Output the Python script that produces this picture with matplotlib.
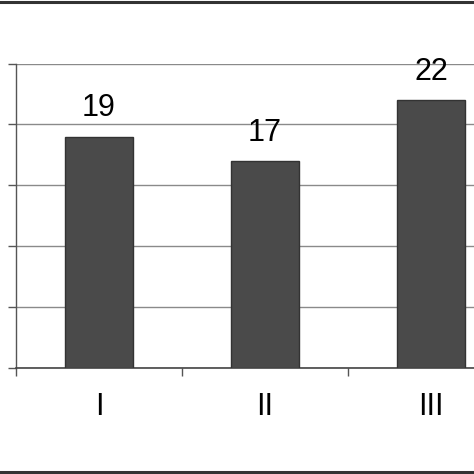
import matplotlib
matplotlib.use("Agg")
import matplotlib.pyplot as plt
from matplotlib.lines import Line2D

categories = ["I", "II", "III"]
values = [19, 17, 22]
yticks = [0, 5, 10, 15, 20, 25]

plt.rcParams['font.family'] = ['Liberation Sans', 'DejaVu Sans']

fig = plt.figure(figsize=(4.74, 4.74), dpi=100)
W = H = 474.0
left_px, right_px = 16.0, 16.0 + 3 * 166.0
bot_px, top_px = 368.0, 63.5
ax = fig.add_axes([left_px / W, 1 - bot_px / H, (right_px - left_px) / W, (bot_px - top_px) / H])

x = list(range(len(categories)))
ax.bar(x, values, width=0.415, color="#4a4a4a", edgecolor="#333333", linewidth=1.0, zorder=3)
for xi, v in zip(x, values):
    ax.annotate(str(v), (xi, v), xytext=(0, 9.5), textcoords="offset points",
                ha="center", va="bottom", fontsize=22, color="black")

ax.set_xlim(-0.5, 2.5)
ax.set_ylim(0, 25)
ax.set_yticks(yticks)
ax.set_yticklabels([])
ax.yaxis.grid(True, color="#8a8a8a", linewidth=1.0, zorder=0)
ax.set_xticks([-0.5, 0.5, 1.5])
ax.set_xticklabels([])
ax.set_xticks(x, minor=True)
ax.set_xticklabels(categories, minor=True, fontsize=22)
ax.tick_params(axis="x", which="minor", length=0, pad=17.5)
ax.tick_params(axis="x", which="major", length=6, width=1.0, color="#555555", direction="out")
ax.tick_params(axis="y", which="major", length=6, width=1.0, color="#555555", direction="out")
for s in ["top", "right"]:
    ax.spines[s].set_visible(False)
ax.spines["left"].set_color("#555555")
ax.spines["bottom"].set_color("#444444")
ax.spines["left"].set_linewidth(1.0)
ax.spines["bottom"].set_linewidth(1.2)

# figure border lines top and bottom
fig.add_artist(Line2D([0, 1], [1 - 1.5 / H, 1 - 1.5 / H], transform=fig.transFigure, color="#333333", linewidth=2.2))
fig.add_artist(Line2D([0, 1], [2.0 / H, 2.0 / H], transform=fig.transFigure, color="#333333", linewidth=2.2))

fig.savefig("out.png", dpi=100)
